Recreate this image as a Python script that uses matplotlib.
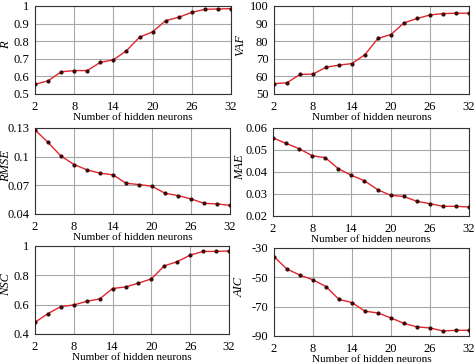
import numpy as np
import matplotlib
matplotlib.use("Agg")
import matplotlib.pyplot as plt

plt.rcParams['font.family'] = ['Liberation Serif', 'DejaVu Serif']
plt.rcParams['font.size'] = 8
plt.rcParams['axes.unicode_minus'] = False

# hidden neurons
neurons = [2, 4, 6, 8, 10, 12, 14, 16, 18, 20, 22, 24, 26, 28, 30, 32]

# performance indices
r_vals = [0.555, 0.575, 0.626, 0.633, 0.633, 0.680, 0.694, 0.746, 0.823, 0.853,
          0.917, 0.936, 0.964, 0.981, 0.983, 0.985]
vaf_vals = [55.8, 56.4, 61.1, 61.3, 65.2, 66.4, 67.3, 72.4, 81.6, 83.8,
            90.4, 92.9, 94.9, 95.7, 95.9, 95.9]
rmse_vals = [0.128, 0.115, 0.1006, 0.0918, 0.0862, 0.0827, 0.081, 0.0722, 0.0708, 0.069,
             0.0617, 0.0593, 0.0558, 0.0512, 0.0505, 0.0491]
mae_vals = [0.0555, 0.053, 0.0506, 0.0474, 0.0465, 0.0415, 0.0385, 0.036, 0.032, 0.0294,
            0.0289, 0.0267, 0.0256, 0.0244, 0.0244, 0.0241]
nsc_vals = [0.480, 0.539, 0.587, 0.598, 0.623, 0.639, 0.710, 0.721, 0.747, 0.776,
            0.865, 0.893, 0.938, 0.963, 0.963, 0.966]
aic_vals = [-35.9, -44.4, -48.5, -51.7, -56.3, -65.1, -67.2, -73.1, -74.3, -77.7,
            -81.4, -83.8, -84.5, -86.6, -86.1, -86.1]

xticks = [2, 8, 14, 20, 26, 32]

# (values, ylabel, yticks, ticklabels, axes rect in pixels: left, top, right, bottom)
panels = [
    (r_vals, 'R', [0.5, 0.6, 0.7, 0.8, 0.9, 1.0], ['0.5', '0.6', '0.7', '0.8', '0.9', '1'], (35, 6, 231, 94)),
    (vaf_vals, 'VAF', [50, 60, 70, 80, 90, 100], None, (274, 6, 469, 94)),
    (rmse_vals, 'RMSE', [0.04, 0.07, 0.10, 0.13], ['0.04', '0.07', '0.1', '0.13'], (35, 128, 230, 214)),
    (mae_vals, 'MAE', [0.02, 0.03, 0.04, 0.05, 0.06], ['0.02', '0.03', '0.04', '0.05', '0.06'], (273, 128, 469, 216)),
    (nsc_vals, 'NSC', [0.4, 0.6, 0.8, 1.0], ['0.4', '0.6', '0.8', '1'], (35, 246, 229, 334)),
    (aic_vals, 'AIC', [-90, -70, -50, -30], None, (274, 248, 469, 336)),
]

W, H = 474, 363
fig = plt.figure(figsize=(W / 100, H / 100), dpi=100)

for i, (vals, ylab, yt, ytl, (l, t, r, b)) in enumerate(panels):
    ax = fig.add_axes([l / W, (H - b) / H, (r - l) / W, (b - t) / H])
    ax.plot(neurons, vals, color='#e3242b', lw=1.0, zorder=3)
    ax.plot(neurons, vals, ls='none', marker='o', ms=2.0, color='#3a0a0a', zorder=4)
    ax.set_xlim(2, 32)
    ax.set_ylim(yt[0], yt[-1])
    ax.set_xticks(xticks)
    ax.set_yticks(yt)
    if ytl is not None:
        ax.set_yticklabels(ytl)
    ax.grid(True, color='#a8a8a8', lw=0.8)
    ax.set_axisbelow(True)
    ax.tick_params(axis='x', length=0, pad=5, labelsize=9)
    ax.tick_params(axis='y', length=0, pad=4, labelsize=9)
    for s in ax.spines.values():
        s.set_color('#333333')
        s.set_linewidth(0.8)
    ax.set_xlabel('Number of hidden neurons', fontsize=8, labelpad=0)
    ax.set_ylabel(ylab, fontstyle='italic', fontsize=9)
    # right edge of the rotated y label, a few px into its column, a bit above centre
    edge = 12 if i % 2 == 0 else 246
    ax.yaxis.set_label_coords((edge - l) / (r - l), 0.56)

plt.savefig('out.png', dpi=100)
